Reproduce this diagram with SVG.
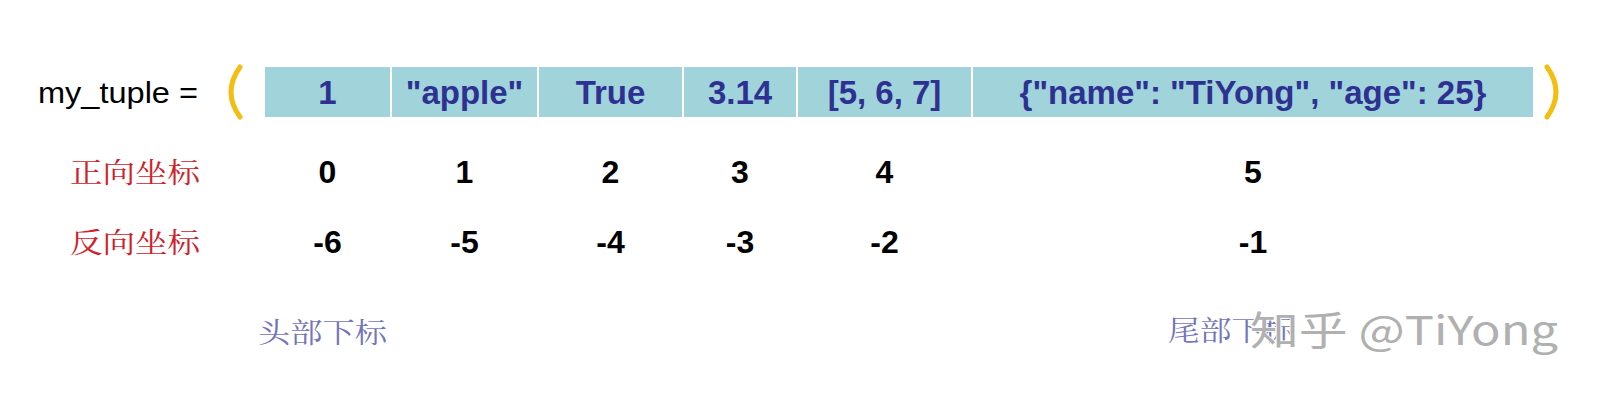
<svg xmlns="http://www.w3.org/2000/svg" width="1597" height="406" viewBox="0 0 1597 406">
<style>
.cell{fill:#a0d4da}
.val{font-family:"Liberation Sans",Arial,sans-serif;font-weight:bold;font-size:33px;fill:#2e3192;text-anchor:middle}
.idx{font-family:"Liberation Sans",Arial,sans-serif;font-weight:bold;font-size:32px;fill:#000;text-anchor:middle}
.lab{font-family:"Noto Serif CJK SC","Noto Sans CJK SC",serif;font-size:28px;fill:#d0202a}
.sub{font-family:"Noto Serif CJK SC","Noto Sans CJK SC",serif;font-size:28px;fill:#7474bb}
.paren{fill:none;stroke:#f5bd12;stroke-width:5;stroke-linecap:round}
</style>
<rect width="1597" height="406" fill="#fff"/>
<text x="38" y="103" font-family="Liberation Sans,Arial,sans-serif" font-size="30" fill="#000" textLength="160" lengthAdjust="spacingAndGlyphs">my_tuple =</text>
<path class="paren" d="M240,67 Q222,92 240,117"/>
<path class="paren" d="M1547,67 Q1565,92 1547,117"/>
<g id="cell0"><rect class="cell" x="265" y="67" width="125" height="50"/><text class="val" x="327.5" y="104">1</text></g>
<g id="cell1"><rect class="cell" x="392" y="67" width="145" height="50"/><text class="val" x="464.5" y="104">"apple"</text></g>
<g id="cell2"><rect class="cell" x="539" y="67" width="143" height="50"/><text class="val" x="610.5" y="104">True</text></g>
<g id="cell3"><rect class="cell" x="684" y="67" width="112" height="50"/><text class="val" x="740" y="104">3.14</text></g>
<g id="cell4"><rect class="cell" x="798" y="67" width="173" height="50"/><text class="val" x="884.5" y="104">[5, 6, 7]</text></g>
<g id="cell5"><rect class="cell" x="973" y="67" width="560" height="50"/><text class="val" x="1253" y="104">{"name": "TiYong", "age": 25}</text></g>
<g id="labels">
<text class="lab" x="70" y="183" textLength="130" lengthAdjust="spacingAndGlyphs">正向坐标</text>
<text class="lab" x="70" y="253" textLength="130" lengthAdjust="spacingAndGlyphs">反向坐标</text>
</g>
<g id="forward">
<text class="idx" x="327.5" y="183">0</text>
<text class="idx" x="464.5" y="183">1</text>
<text class="idx" x="610.5" y="183">2</text>
<text class="idx" x="740" y="183">3</text>
<text class="idx" x="884.5" y="183">4</text>
<text class="idx" x="1253" y="183">5</text>
</g>
<g id="backward">
<text class="idx" x="327.5" y="253">-6</text>
<text class="idx" x="464.5" y="253">-5</text>
<text class="idx" x="610.5" y="253">-4</text>
<text class="idx" x="740" y="253">-3</text>
<text class="idx" x="884.5" y="253">-2</text>
<text class="idx" x="1253" y="253">-1</text>
</g>
<g id="head"><text class="sub" x="258" y="343" textLength="129" lengthAdjust="spacingAndGlyphs">头部下标</text></g>
<g id="tail"><text class="sub" x="1168" y="341" textLength="127" lengthAdjust="spacingAndGlyphs">尾部下标</text></g>
<text x="1250" y="345" font-family="Noto Sans CJK SC,sans-serif" font-size="40" fill="#b0b0b0" stroke="#ffffff" stroke-width="1.5" paint-order="stroke" textLength="308" lengthAdjust="spacingAndGlyphs">知乎 @TiYong</text>
</svg>
